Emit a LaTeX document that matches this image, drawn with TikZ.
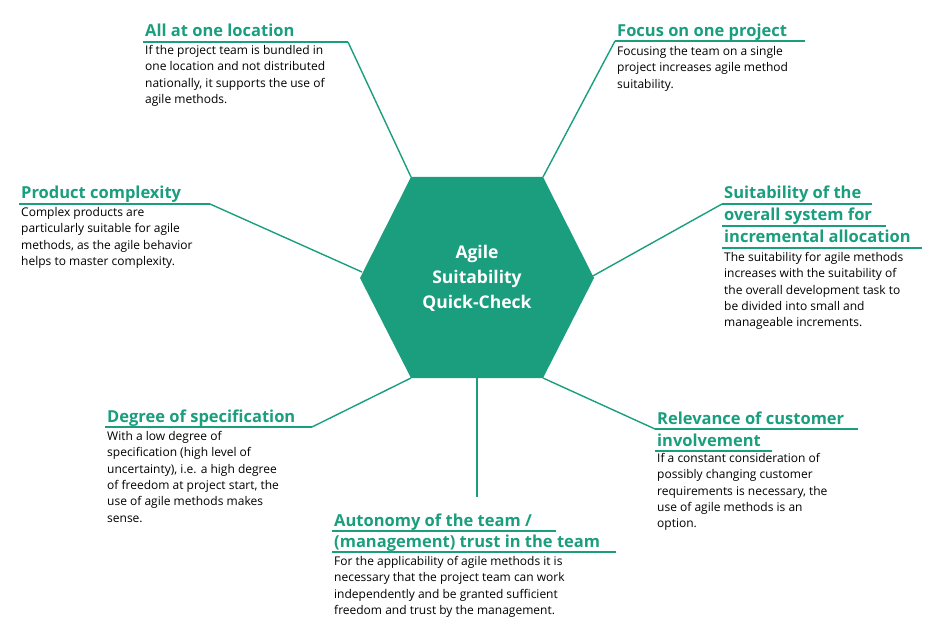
\documentclass[tikz,border=0pt]{standalone}
\usepackage{fontspec}
\setmainfont{Open Sans}
\definecolor{teal1}{HTML}{1A9E7E}
\begin{document}
\begin{tikzpicture}[x=1pt,y=-1pt,
  ttl/.style={anchor=base west,inner sep=0pt,text=teal1,font=\fontsize{16.5}{20}\selectfont\bfseries},
  body/.style={anchor=north west,inner sep=0pt,align=left,font=\fontsize{12}{16.4}\selectfont},
  ln/.style={draw=teal1,line width=1.4pt}]
\useasboundingbox (0,0) rectangle (940,636);
% hexagon vertices
\coordinate (h1) at (411,177); \coordinate (h2) at (543,177); \coordinate (h3) at (594,278);
\coordinate (h4) at (543,378); \coordinate (h5) at (411,378); \coordinate (h6) at (360,278);
\coordinate (hl) at (362,272); \coordinate (hr) at (591,277); \coordinate (hb) at (477,378);
% titles
\node[ttl] (t1) at (145,37) {All at one location};
\node[ttl] (t2) at (617,37) {Focus on one project};
\node[ttl] (t3) at (21,199) {Product complexity};
\node[ttl] (t4a) at (724,199) {Suitability of the};
\node[ttl] (t4b) at (724,221) {overall system for};
\node[ttl] (t4c) at (724,243) {incremental allocation};
\node[ttl] (t5) at (107,422) {Degree of specification};
\node[ttl] (t6a) at (657,424) {Relevance of customer};
\node[ttl] (t6b) at (657,446) {involvement};
\node[ttl] (t7a) at (334,526) {Autonomy of the team /};
\node[ttl] (t7b) at (334,547) {(management) trust in the team};
% underlines
\coordinate (u1) at (348,42); \draw[ln] (143,42) -- (u1);
\coordinate (u2) at (615,41); \draw[ln] (u2) -- (805,41);
\coordinate (u3) at (210,204); \draw[ln] (19,204) -- (u3);
\coordinate (u4) at (722,204); \draw[ln] (u4) -- (872,204);
\draw[ln] (722,226) -- (886,226); \draw[ln] (722,248) -- (922,248);
\coordinate (u5) at (312,427); \draw[ln] (105,427) -- (u5);
\coordinate (u6) at (655,429); \draw[ln] (u6) -- (858,429); \draw[ln] (655,451) -- (772,451);
\coordinate (u7) at (477,497);
\draw[ln] (332,531) -- (556,531); \draw[ln] (332,552) -- (616,552);
% connectors
\draw[ln] (u1) -- (h1);
\draw[ln] (u2) -- (h2);
\draw[ln] (u3) -- (hl);
\draw[ln] (u4) -- (hr);
\draw[ln] (u5) -- (h5);
\draw[ln] (u6) -- (h4);
\draw[ln] (hb) -- (u7);
% hexagon
\fill[teal1] (h1) -- (h2) -- (h3) -- (h4) -- (h5) -- (h6) -- cycle;
\node[text=white,align=center,font=\fontsize{17.5}{25}\selectfont\bfseries] (c) at (477,278) {Agile\\Suitability\\Quick-Check};
% bodies
\node[body] (b1) at (145,45) {If the project team is bundled in\\one location and not distributed\\nationally, it supports the use of\\agile methods.};
\node[body] (b2) at (617,46) {Focusing the team on a single\\project increases agile method\\suitability.};
\node[body] (b3) at (21,207) {Complex products are\\particularly suitable for agile\\methods, as the agile behavior\\helps to master complexity.};
\node[body] (b4) at (724,252) {The suitability for agile methods\\increases with the suitability of\\the overall development task to\\be divided into small and\\manageable increments.};
\node[body] (b5) at (107,431) {With a low degree of\\specification (high level of\\uncertainty), i.e. a high degree\\of freedom at project start, the\\use of agile methods makes\\sense.};
\node[body] (b6) at (657,453) {If a constant consideration of\\possibly changing customer\\requirements is necessary, the\\use of agile methods is an\\option.};
\node[body] (b7) at (334,556) {For the applicability of agile methods it is\\necessary that the project team can work\\independently and be granted sufficient\\freedom and trust by the management.};
\end{tikzpicture}
\end{document}
